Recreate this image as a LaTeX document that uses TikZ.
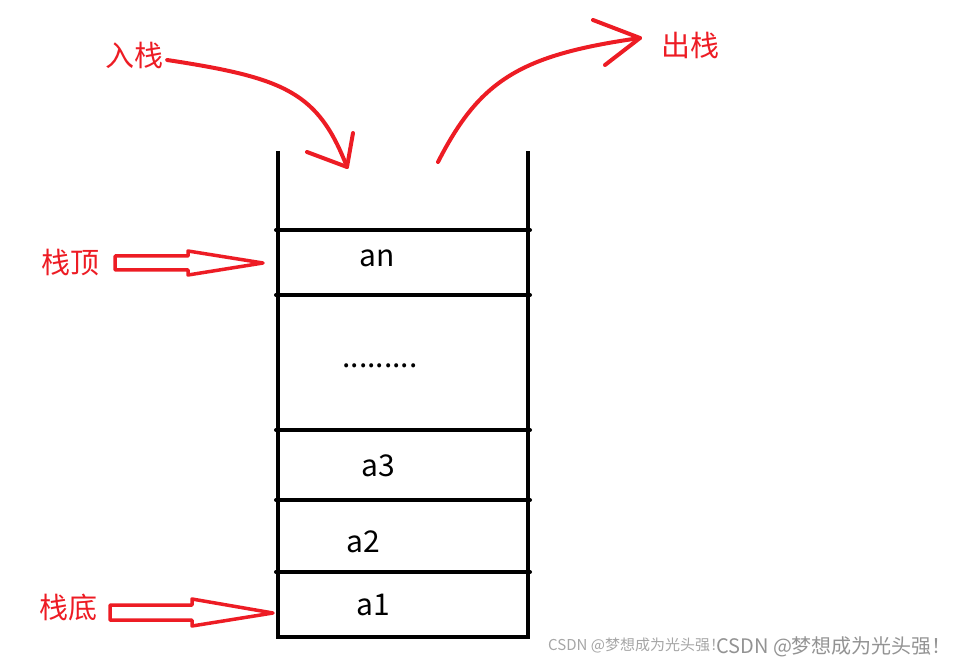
\documentclass[tikz,border=0pt]{standalone}
\usepackage{fontspec}
\setmainfont{Noto Sans CJK SC}
\usepackage{tikz}
\usetikzlibrary{calc,arrows.meta,positioning}
\definecolor{paintred}{HTML}{ED1C24}

\begin{document}
\begin{tikzpicture}[
  x=1pt,y=-1pt,
  wall/.style={line width=4pt,black},
  redline/.style={line width=4pt,paintred,line cap=round,line join=round},
  lbl/.style={text=paintred,font=\fontsize{29}{29}\selectfont,inner sep=0pt},
  cell/.style={font=\fontsize{30}{30}\selectfont,inner sep=0pt},
  wmark/.style={text=gray!70,inner sep=0pt}
]
  \useasboundingbox (0,0) rectangle (958,668);

  % Stack outline
  \coordinate (TL) at (278,151);
  \coordinate (TR) at (528,151);
  \coordinate (BL) at (278,637);
  \coordinate (BR) at (528,637);
  \draw[wall] (TL) -- (BL) -- (BR) -- (TR);

  % Rows
  \foreach \y in {230,295,430,500,572}
    \draw[wall,line cap=round] (276,\y) -- (530,\y);

  % Cell contents
  \node[cell] (an)   at (377,258) {an};
  \node[cell] (dots) at (380,366) {.........};
  \node[cell] (a3)   at (378,466) {a3};
  \node[cell] (a2)   at (363,542) {a2};
  \node[cell] (a1)   at (373,605) {a1};

  % Labels
  \node[lbl] (push) at (134,55)  {入栈};
  \node[lbl] (pop)  at (690,45)  {出栈};
  \node[lbl] (top)  at (70,263)  {栈顶};
  \node[lbl] (bot)  at (68,607)  {栈底};

  % Push arrow
  \coordinate (pushtip) at (347,167);
  \draw[redline] (push.east) ++(4,5) .. controls (285,78) and (318,92) .. (pushtip);
  \draw[redline] (307,152) -- (pushtip) -- (353,133);

  % Pop arrow
  \coordinate (popstart) at (438,162);
  \coordinate (poptip) at (640,38);
  \draw[redline] (popstart) .. controls (480,80) and (520,55) .. (poptip);
  \draw[redline] (593,20) -- (poptip) -- (605,65);

  % Hollow arrows to top and bottom
  \draw[redline,line width=3.5pt] (115,256) -- (188,256) -- (188,251) -- (263,263)
    -- (188,275) -- (188,270) -- (115,270) -- cycle;
  \draw[redline,line width=3.5pt] (110,605) -- (192,605) -- (192,599) -- (273,613)
    -- (192,626) -- (192,620) -- (110,620) -- cycle;

  % Watermarks
  \node[wmark,anchor=west,font=\fontsize{15}{15}\selectfont] (wm1) at (548,645) {CSDN @梦想成为光头强！};
  \node[wmark,anchor=west,font=\fontsize{20}{20}\selectfont,text=gray!85] (wm2) at (716,647) {CSDN @梦想成为光头强！};
\end{tikzpicture}
\end{document}
